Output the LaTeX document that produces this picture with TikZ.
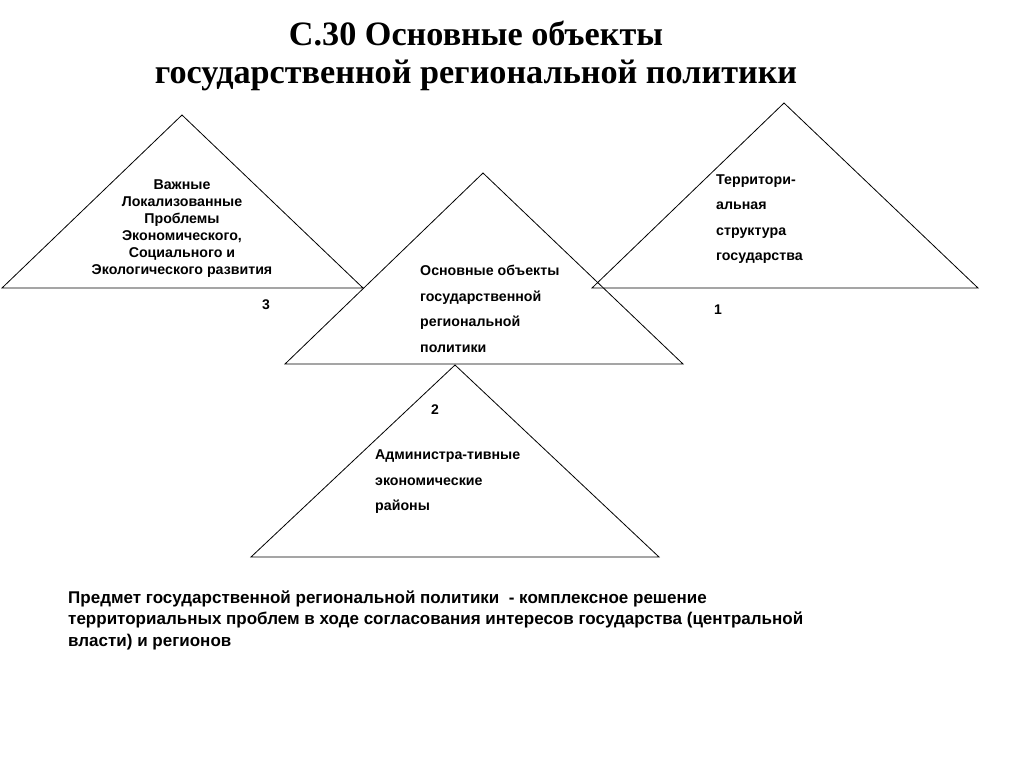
\documentclass[tikz,border=0pt]{standalone}
\usepackage{fontspec}
\setmainfont{Liberation Sans}
\newfontfamily\titlefont{Liberation Serif}

\begin{document}
\begin{tikzpicture}[x=1pt,y=-1pt,
  tri/.style={draw=black,line width=0.8pt},
  txt/.style={font=\bfseries\fontsize{14.2}{25.5}\selectfont,align=left,inner sep=0pt,anchor=west},
  txtc/.style={font=\bfseries\fontsize{14.2}{17}\selectfont,align=center,inner sep=0pt},
  num/.style={font=\bfseries\fontsize{14}{15}\selectfont,inner sep=0pt}]

  \useasboundingbox [fill=white] (0,0) rectangle (1024,768);

  % title
  \node [font=\titlefont\bfseries\fontsize{34.2}{38}\selectfont,align=center] (title) at (476,56) {С.30 Основные объекты\\государственной региональной политики};

  % triangles
  \coordinate (left-top) at (182,115);
  \coordinate (left-a) at (2,288);
  \coordinate (left-b) at (363,288);
  \draw [tri] (left-top) -- (left-b) -- (left-a) -- cycle;

  \coordinate (right-top) at (784,103);
  \coordinate (right-a) at (592,288);
  \coordinate (right-b) at (978,288);
  \draw [tri] (right-top) -- (right-b) -- (right-a) -- cycle;

  \coordinate (mid-top) at (483,173);
  \coordinate (mid-a) at (285,364);
  \coordinate (mid-b) at (683,364);
  \draw [tri] (mid-top) -- (mid-b) -- (mid-a) -- cycle;

  \coordinate (low-top) at (455,365);
  \coordinate (low-a) at (251,557);
  \coordinate (low-b) at (659,557);
  \draw [tri] (low-top) -- (low-b) -- (low-a) -- cycle;

  % texts in the triangles
  \node [txtc] (problems) at (182,229) {Важные\\Локализованные\\Проблемы\\Экономического,\\Социального и\\Экологического развития};
  \node [txt] (territory) at (716,219) {Территори-\\альная\\структура\\государства};
  \node [txt] (objects) at (420,309) {Основные объекты\\государственной\\региональной\\политики};
  \node [txt] (districts) at (375,482) {Администра-тивные\\экономические\\районы};

  \node [num] (n3) at (266,305) {3};
  \node [num] (n1) at (718,310) {1};
  \node [num] (n2) at (435,410) {2};

  % subject
  \node [font=\bfseries\fontsize{17}{21.5}\selectfont,align=left,anchor=west,inner sep=0pt] (subject) at (68,620) {Предмет государственной региональной политики\ \ - комплексное решение\\территориальных проблем в ходе согласования интересов государства (центральной\\власти) и регионов};

\end{tikzpicture}
\end{document}
